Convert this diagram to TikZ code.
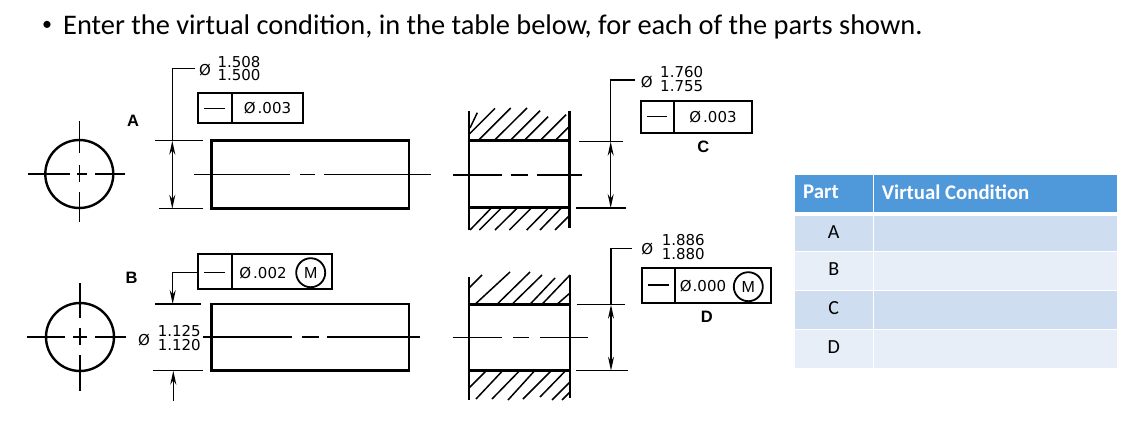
\documentclass[tikz,border=0pt]{standalone}
\usepackage{fontspec}
\setmainfont{Carlito}
\newfontfamily\dwgfont{DejaVu Sans}
\newfontfamily\lblfont{Liberation Sans}
\usetikzlibrary{arrows.meta}
\tikzset{
  outline/.style={line width=2.7pt},
  thin line/.style={line width=1.5pt},
  hatchline/.style={line width=1.5pt},
  dimtext/.style={font=\dwgfont\fontsize{15}{15}\selectfont,inner sep=0pt},
  partlabel/.style={font=\lblfont\bfseries\fontsize{16.5}{17}\selectfont,inner sep=0pt},
  cell/.style={draw,line width=1.8pt,inner sep=0pt,minimum height=#1},
  mmc/.style={draw,circle,line width=1.8pt,minimum size=29pt,inner sep=0pt,font=\lblfont\fontsize{16}{16}\selectfont},
  endcircle/.style={draw,circle,line width=2.4pt,minimum size=68pt,inner sep=0pt},
  rowcell/.style={inner sep=0pt,font=\fontsize{20}{22}\selectfont},
  headtext/.style={anchor=west,inner sep=0pt,text=white,font=\bfseries\fontsize{20.8}{22}\selectfont}
}
\definecolor{headblue}{HTML}{4F98DA}
\definecolor{rowdark}{HTML}{CFDDF0}
\definecolor{rowlight}{HTML}{E8EEF7}
\begin{document}
\begin{tikzpicture}[x=1pt,y=-1pt,>={Stealth[length=14pt,width=6pt]}]
  \useasboundingbox (0,0) rectangle (1129,426);
  % heading
  \node [inner sep=0pt,font=\fontsize{20}{22}\selectfont] (bullet) at (47,26) {•};
  \node [anchor=base west,inner sep=0pt,font=\fontsize{28.4}{30}\selectfont] (heading) at (63,34)
    {Enter the virtual condition, in the table below, for each of the parts shown.};

  % end views
  \node [endcircle] (endA) at (79.3,174) {};
  \node [endcircle] (endB) at (80,337) {};
  \foreach \a/\b in {28/70,77/87,95/125} \draw [thin line] (\a,174) -- (\b,174);
  \foreach \a/\b in {121/153,165/182,192/222} \draw [thin line] (79.3,\a) -- (79.3,\b);
  \foreach \a/\b in {27/65,73/87,95/126} \draw [thin line] (\a,337) -- (\b,337);
  \foreach \a/\b in {283/318,328/345,355/391} \draw [thin line] (80,\a) -- (80,\b);
  \node [partlabel] (lblA) at (133,121) {A};
  \node [partlabel] (lblB) at (131.7,277.7) {B};

  % part A
  \draw [outline] (211.7,140.7) rectangle (409,208.7);
  \foreach \a/\b in {194/290,300/315,324/431} \draw [thin line] (\a,174.3) -- (\b,174.3);
  \draw [thin line] (155,140.7) -- (203,140.7);
  \draw [thin line] (159,208.7) -- (203,208.7);
  \coordinate (dimAtop) at (172.3,140.7);
  \coordinate (dimAbot) at (172.3,208.7);
  \coordinate (dimAturn) at (172.3,68.3);
  \coordinate (dimAend) at (195,68.3);
  \draw [thin line,<->] (dimAtop) -- (dimAbot);
  \draw [thin line] (dimAend) -- (dimAturn) -- (dimAtop);
  \node [dimtext] (diaA) at (205,70) {Ø};
  \node [dimtext] (maxA) at (239,61.7) {1.508};
  \node [dimtext] (minA) at (239,75) {1.500};
  \node [cell=30pt,minimum width=33.4pt] (symA) at (215,107.7) {};
  \node [cell=30pt,minimum width=71.6pt,dimtext] (tolA) at (267.5,107.7) {Ø\kern2pt.003};
  \draw [thin line] (204,108.3) -- (225,108.3);

  % part B
  \draw [outline] (211.7,304) rectangle (409,370.7);
  \foreach \a/\b in {203/291.7,301.7/319,327.3/420} \draw [thin line] (\a,337) -- (\b,337);
  \draw [thin line] (155,304) -- (201,304);
  \draw [thin line] (153,370.7) -- (203,370.7);
  \node [cell=35pt,minimum width=33.4pt] (symB) at (215,271.8) {};
  \node [cell=35pt,minimum width=100pt] (tolB) at (281.7,271.8) {};
  \node [dimtext] (txtB) at (263,272.7) {Ø\kern2pt.002};
  \node [mmc] (mmcB) at (310.7,272.7) {M};
  \draw [thin line] (204,272.7) -- (225,272.7);
  \coordinate (dimBtop) at (172.7,304);
  \coordinate (dimBbot) at (173.3,370.7);
  \coordinate (dimBturn) at (172.7,272.7);
  \coordinate (dimBtail) at (173.3,400.7);
  \draw [thin line,->] (symB.west |- dimBturn) -- (dimBturn) -- (dimBtop);
  \draw [thin line,->] (dimBtail) -- (dimBbot);
  \node [dimtext] (diaB) at (144,340) {Ø};
  \node [dimtext] (maxB) at (179.3,330.7) {1.125};
  \node [dimtext] (minB) at (179.3,345) {1.120};

  % part C
  \draw [outline] (469,111) -- (469,230);
  \draw [outline] (569.7,111) -- (569.7,228);
  \draw [outline] (469,140.7) -- (569.7,140.7);
  \draw [outline] (469,207.3) -- (569.7,207.3);
  \foreach \a/\b in {453.3/501.7,510.7/528.3,536.7/581.7} \draw [thin line] (\a,175) -- (\b,175);
  \foreach \a/\b/\c/\d in {470/128/477.3/112.7,469/134.3/495/108.3,478/140.7/510.7/108,
      494/140.7/527/108,510/140.7/540/110.7,524/140.7/548/116.7,540/140.7/566/114.7,555/140.7/569.7/126,
      470/230/492/207.3,479.3/230/502/207.3,495/230/518/207.3,509.3/230/532/207.3,526.7/230/549/207.3,
      540/230/562/207.3,555/230/569.7/215.3}
    \draw [hatchline] (\a,\b) -- (\c,\d);
  \draw [thin line] (579.3,141.7) -- (622.7,141.7);
  \draw [thin line] (576,208) -- (625.7,208);
  \coordinate (dimCtop) at (610.7,141.7);
  \coordinate (dimCbot) at (610.7,208);
  \coordinate (dimCturn) at (610.7,80);
  \coordinate (dimCend) at (635,80);
  \draw [thin line,<->] (dimCtop) -- (dimCbot);
  \draw [thin line] (dimCend) -- (dimCturn) -- (dimCtop);
  \node [dimtext] (diaC) at (646.7,81.7) {Ø};
  \node [dimtext] (maxC) at (681.7,72) {1.760};
  \node [dimtext] (minC) at (681.7,85.7) {1.755};
  \node [cell=31.7pt,minimum width=33.3pt] (symC) at (657.6,116.8) {};
  \node [cell=31.7pt,minimum width=77.4pt,dimtext] (tolC) at (713,116.8) {Ø\kern2pt.003};
  \draw [thin line] (647.3,116.7) -- (667.3,116.7);
  \node [partlabel] (lblC) at (703.3,147.3) {C};

  % part D
  \draw [outline] (469,277) -- (469,400);
  \draw [outline] (570,275) -- (570,398);
  \draw [outline] (469,304.3) -- (570,304.3);
  \draw [outline] (469,370.3) -- (570,370.3);
  \foreach \a/\b in {452.7/502.3,513.3/529.3,540/587.7} \draw [thin line] (\a,337.7) -- (\b,337.7);
  \foreach \a/\b/\c/\d in {469/288/482/275,475/304.3/510/272,497/304.3/530/272,512/304.3/542/275,
      530/304.3/555/278,542/304.3/570/275,557/304.3/570/293,
      469/388/486.7/370.3,476/399/503/370.3,492/399/520/370.3,508/400/535/370.3,523/399/551.7/370.3,
      540/397/566/370.3,552/400/570/382,562/400/570/392}
    \draw [hatchline] (\a,\b) -- (\c,\d);
  \draw [thin line] (576.7,304.7) -- (625,304.7);
  \draw [thin line] (576,370.7) -- (627.7,370.7);
  \coordinate (dimDtop) at (611,304.7);
  \coordinate (dimDbot) at (611,370.7);
  \coordinate (dimDturn) at (611,248.3);
  \coordinate (dimDend) at (631.7,248.3);
  \draw [thin line,<->] (dimDtop) -- (dimDbot);
  \draw [thin line] (dimDend) -- (dimDturn) -- (dimDtop);
  \node [dimtext] (diaD) at (647.3,249) {Ø};
  \node [dimtext] (maxD) at (683.3,240) {1.886};
  \node [dimtext] (minD) at (683.3,254.3) {1.880};
  \node [cell=35pt,minimum width=33.3pt] (symD) at (658.3,285.8) {};
  \node [cell=35pt,minimum width=95.7pt] (tolD) at (722.8,285.8) {};
  \node [dimtext] (txtD) at (703,286) {Ø\kern1pt.000};
  \node [mmc] (mmcD) at (748.3,286.7) {M};
  \draw [thin line] (648.3,285) -- (669,285);
  \node [partlabel] (lblD) at (706.7,316.7) {D};

  % table
  \fill [headblue] (795,175) rectangle (872.7,211.7);
  \fill [headblue] (874,175) rectangle (1116.7,211.7);
  \foreach \t/\b/\c in {215.7/250.7/rowdark,251.7/290/rowlight,291/328.7/rowdark,329.7/367.7/rowlight} {
    \fill [\c] (795,\t) rectangle (872.7,\b);
    \fill [\c] (874,\t) rectangle (1116.7,\b);
  }
  \node [headtext] (headPart) at (803,192.3) {Part};
  \node [headtext] (headVC) at (881.7,192.3) {Virtual Condition};
  \node [rowcell] (rowA) at (833.7,231.7) {A};
  \node [rowcell] (rowB) at (833.7,269) {B};
  \node [rowcell] (rowC) at (833.7,308.3) {C};
  \node [rowcell] (rowD) at (833.7,347.3) {D};
\end{tikzpicture}
\end{document}
